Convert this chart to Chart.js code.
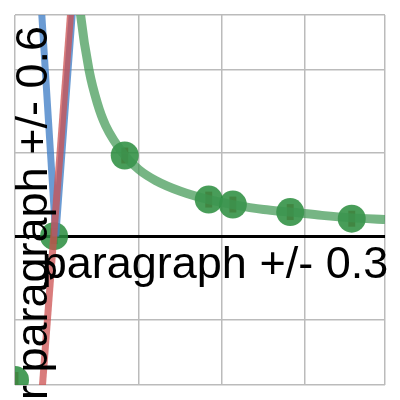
<!DOCTYPE html>
<html>
<head>
<meta charset="utf-8">
<script src="https://cdn.jsdelivr.net/npm/chart.js@4"></script>
<style>
  html, body { margin: 0; padding: 0; background: #fff; }
  #wrap { width: 400px; height: 400px; }
</style>
</head>
<body>
<div id="wrap"><canvas id="c"></canvas></div>
<script>
// valores
const curveX = [0.24, 0.30, 0.40, 0.50, 0.60, 0.83, 1.00, 1.20, 1.50, 1.84, 2.13, 2.50, 2.82, 3.20, 3.56, 3.96];
const curveY = [3.30, 2.65, 2.00, 1.60, 1.33, 0.97, 0.80, 0.67, 0.54, 0.44, 0.38, 0.32, 0.29, 0.25, 0.22, 0.20];
const pointX = [-0.02, 0.83, 1.84, 2.13, 2.82, 3.56, -0.49];
const pointY = [0.00, 0.97, 0.44, 0.38, 0.29, 0.21, -1.73];
const blueX = [-0.17, 0.00, 0.20];
const blueY = [2.70, 0.00, 2.70];
const redX = [-0.16, 0.18];
const redY = [-1.80, 2.70];
const xTitle = 'paragraph +/- 0.3';
const yTitle = 'error paragraph +/- 0.6';

const zip = (xs, ys) => xs.map((x, i) => ({ x: x, y: ys[i] }));

const titles = {
    id: 'titles',
    afterDraw(chart) {
        const { ctx, scales: { x, y } } = chart;
        const x0 = x.getPixelForValue(0);
        const y0 = y.getPixelForValue(0);
        ctx.save();
        ctx.fillStyle = '#000';
        ctx.font = '45px "Liberation Sans", Arial, sans-serif';
        ctx.textAlign = 'left';
        ctx.textBaseline = 'alphabetic';
        ctx.fillText(xTitle, x0 - 14, y0 + 42);
        ctx.translate(x0 - 9, 26);
        ctx.rotate(-Math.PI / 2);
        ctx.textAlign = 'right';
        ctx.fillText(yTitle, 0, 0);
        ctx.restore();
    }
};

const gridOpts = {
    drawTicks: false,
    color: c => c.tick.value === 0 ? '#000' : '#bbb',
    lineWidth: c => c.tick.value === 0 ? 3 : 1.5
};

new Chart(document.getElementById('c'), {
    type: 'scatter',
    data: {
        datasets: [
            {
                data: zip(redX, redY), showLine: true, borderColor: 'rgba(204,80,80,0.75)',
                borderWidth: 7, pointRadius: 0
            },
            {
                data: zip(blueX, blueY), showLine: true, borderColor: 'rgba(70,130,200,0.8)',
                borderWidth: 7, pointRadius: 0
            },
            {
                data: zip(curveX, curveY), showLine: true, borderColor: 'rgba(60,150,80,0.7)',
                borderWidth: 9, pointRadius: 0, tension: 0.4, cubicInterpolationMode: 'monotone'
            },
            {
                data: zip(pointX, pointY), backgroundColor: 'rgba(40,140,60,0.85)',
                borderWidth: 0, pointRadius: 14
            },
            {
                data: zip(pointX, pointY), pointStyle: 'line', pointRotation: 90,
                pointBorderColor: 'rgba(205,85,85,0.85)', pointBorderWidth: 7, pointRadius: 8
            }
        ]
    },
    options: {
        responsive: true,
        maintainAspectRatio: false,
        animation: false,
        layout: { padding: 0 },
        plugins: { legend: { display: false }, tooltip: { enabled: false } },
        scales: {
            x: {
                type: 'linear', min: -0.49, max: 3.96,
                ticks: { display: false, stepSize: 1, padding: 0 },
                border: { display: false },
                grid: gridOpts,
                afterFit: s => { s.height = 0; s.paddingLeft = 0; s.paddingRight = 0; }
            },
            y: {
                type: 'linear', min: -1.79, max: 2.66,
                ticks: { display: false, stepSize: 1, padding: 0 },
                border: { display: false },
                grid: gridOpts,
                afterFit: s => { s.width = 0; s.paddingTop = 0; s.paddingBottom = 0; }
            }
        }
    },
    plugins: [titles]
});
</script>
</body>
</html>
